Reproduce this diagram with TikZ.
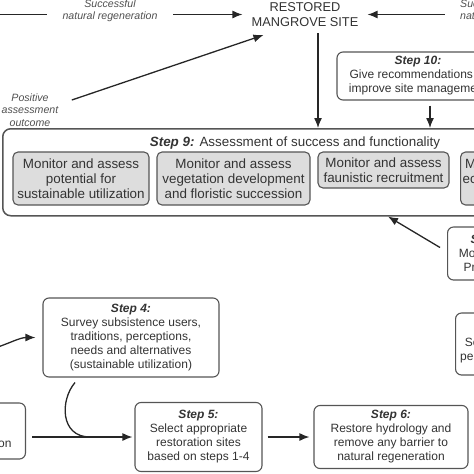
\documentclass[tikz,border=0pt]{standalone}
\usepackage{fontspec}
\setmainfont{Liberation Sans}
\usetikzlibrary{arrows.meta}
\definecolor{txtgray}{HTML}{333333}
\definecolor{boxline}{HTML}{555555}
\definecolor{boxfill}{HTML}{DDDDDD}
\definecolor{lblgray}{HTML}{505050}
\newcommand{\stepno}[1]{\textbf{\textit{#1}}}
\begin{document}
\begin{tikzpicture}[x=1pt,y=-1pt,
  stepbox/.style={draw=boxline, line width=1.1pt, rounded corners=6pt, align=center, text=txtgray, font=\fontsize{12}{14}\selectfont, inner sep=2pt},
  monbox/.style={draw=boxline, fill=boxfill, line width=1.1pt, rounded corners=5pt, align=center, text=txtgray, font=\fontsize{13.4}{15}\selectfont, inner sep=2pt},
  outbox/.style={draw=boxline, line width=1.5pt, rounded corners=8pt},
  lbl/.style={align=center, text=lblgray, font=\fontsize{10.6}{12.5}\selectfont\itshape},
  arr/.style={-{Latex[length=10pt,width=8pt]}, line width=1.3pt, draw=black!85},
  conn/.style={line width=1.3pt, draw=black!85}]
\useasboundingbox (0,0) rectangle (474,474);
\clip (0,0) rectangle (474,474);
% restored site on top
\node[font=\fontsize{12.8}{15}\selectfont, text=txtgray, align=center, inner xsep=9pt] (restored) at (305,14.5) {RESTORED\\MANGROVE SITE};
\coordinate (farl) at (-10,14.5);
\coordinate (farr) at (520,14.5);
\draw[arr] (farl) -- (restored.west);
\draw[arr] (farr) -- (restored.east);
\node[lbl, fill=white, inner xsep=16pt, inner ysep=1pt] (natl) at (110,11) {Successful\\natural regeneration};
\node[lbl, fill=white, inner xsep=15pt, inner ysep=1pt, anchor=west, align=left] (natr) at (445,11) {Successful\\natural regeneration};
\node[lbl] (posout) at (30,110) {Positive\\assessment\\outcome};
\draw[arr] ([xshift=10pt,yshift=10pt]posout.east) -- ([xshift=21pt,yshift=-5pt]restored.south west);
% step 10
\node[stepbox, minimum width=162pt, minimum height=48pt] (step10) at (418,76) {\stepno{Step 10:}\\Give recommendations to\\improve site management};
% step 9 with its four parts
\node[outbox, minimum width=586pt, minimum height=87pt, anchor=north west] (step9) at (2,128) {};
\node[text=txtgray, font=\fontsize{13.4}{15}\selectfont] (title9) at (295,143) {\stepno{Step 9:} Assessment of success and functionality};
\node[monbox, minimum width=136pt, minimum height=53pt] (mona) at (81,178.5) {Monitor and assess\\potential for\\sustainable utilization};
\node[monbox, minimum width=153pt, minimum height=53pt] (monb) at (233.5,178.5) {Monitor and assess\\vegetation development\\and floristic succession};
\node[monbox, minimum width=131pt, minimum height=36pt] (monc) at (383.5,170) {Monitor and assess\\faunistic recruitment};
\node[monbox, minimum width=124pt, minimum height=53pt, anchor=west] (mond) at (460,178.5) {Monitor and assess\\ecosystem functions\\and services};
\draw[arr, shorten <=3pt] ([xshift=13pt]restored.south) -- ([xshift=13pt]restored.south |- step9.north);
\draw[arr, shorten <=5pt] ([xshift=12pt]step10.south) -- ([xshift=12pt]step10.south |- step9.north);
% steps 8 and 7 on the right
\node[stepbox, minimum width=86pt, minimum height=53pt, anchor=west] (step8) at (447,253.5) {\stepno{Step 8:}\\Monitor and\\Protection};
\draw[arr] ([xshift=-7pt,yshift=6pt]step8.west) -- (388,0 |- step9.south);
\node[stepbox, minimum width=96pt, minimum height=62pt, anchor=west] (step7) at (455,344) {\stepno{Step 7:}\\Select species\\perform planting};
% steps 3 to 6
\node[stepbox, minimum width=176pt, minimum height=79pt] (step4) at (131,337.5) {\stepno{Step 4:}\\Survey subsistence users,\\traditions, perceptions,\\needs and alternatives\\(sustainable utilization)};
\node[stepbox, minimum width=148pt, minimum height=56pt, anchor=east] (step3) at (26,431) {\stepno{Step 3:}\\Identify causes of\\mangrove degradation};
\node[stepbox, minimum width=127pt, minimum height=69pt] (step5) at (198.5,437) {\stepno{Step 5:}\\Select appropriate\\restoration sites\\based on steps 1-4};
\node[stepbox, minimum width=154pt, minimum height=63pt] (step6) at (391,437) {\stepno{Step 6:}\\Restore hydrology and\\remove any barrier to\\natural regeneration};
\coordinate (in4) at (-5,348);
\coordinate (merge) at (90,437);
\draw[arr, shorten >=7pt] (in4) .. controls (10,343) and (20,337.5) .. (step4.west);
\draw[conn] ([xshift=-56pt,yshift=-5pt]step4.south) .. controls (60,400) and (60,437) .. (merge);
\draw[arr, shorten <=6pt, shorten >=2pt] (step3.east |- step5.west) -- (step5.west);
\draw[arr, shorten <=5pt, shorten >=4pt] (step5.east) -- (step6.west);
\end{tikzpicture}
\end{document}
